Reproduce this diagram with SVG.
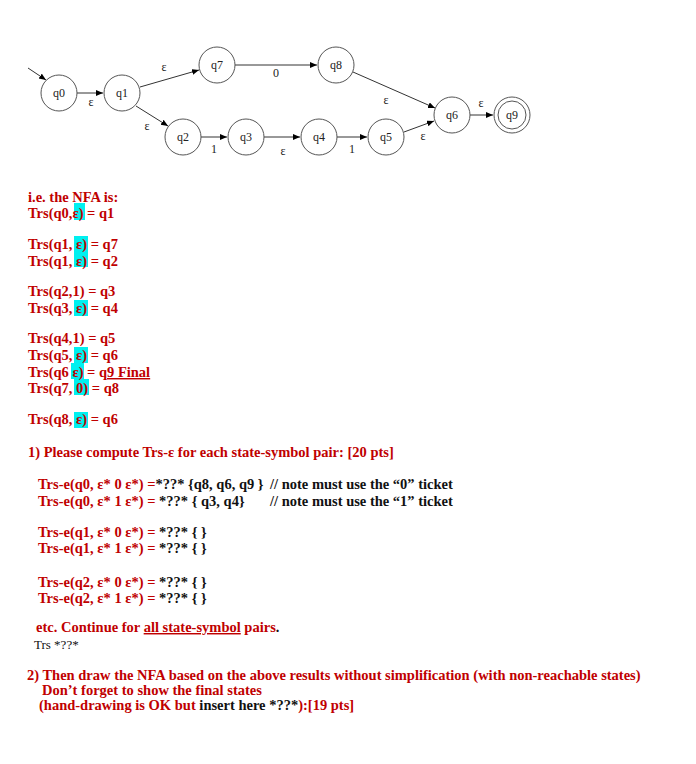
<svg xmlns="http://www.w3.org/2000/svg" width="696" height="764" viewBox="0 0 696 764">
<defs>
<marker id="ah" markerWidth="8" markerHeight="8" refX="7" refY="3" orient="auto" markerUnits="userSpaceOnUse"><path d="M0,0 L7,3 L0,6 z" fill="#000"/></marker>
</defs>
<style>
.n circle{fill:#fff;stroke:#555;stroke-width:1}
.n text,.lb{font-family:"Liberation Serif",serif;font-size:12px;fill:#222;text-anchor:middle}
.e{stroke:#333;stroke-width:1;fill:none;marker-end:url(#ah)}
.t{font-family:"Liberation Serif",serif;font-weight:bold;font-size:14.5px;fill:#c00000}
.k{fill:#111}
.hl{fill:#00f0f0}
</style>
<rect width="696" height="764" fill="#fff"/>
<g id="connectors">
<line class="e" x1="28" y1="68" x2="46" y2="80"/>
<line class="e" x1="77" y1="93" x2="103" y2="93"/>
<line class="e" x1="140" y1="87" x2="199" y2="70"/>
<line class="e" x1="136" y1="106" x2="168" y2="126"/>
<line class="e" x1="235" y1="65" x2="317" y2="65"/>
<line class="e" x1="201" y1="137" x2="227" y2="137"/>
<line class="e" x1="264" y1="137" x2="300" y2="137"/>
<line class="e" x1="337" y1="137" x2="367" y2="137"/>
<line class="e" x1="404" y1="132" x2="434" y2="121"/>
<line class="e" x1="353" y1="72" x2="435" y2="108"/>
<line class="e" x1="470" y1="115" x2="493" y2="115"/>
<text class="lb" x="91" y="106">ε</text>
<text class="lb" x="164" y="71">ε</text>
<text class="lb" x="276" y="77">0</text>
<text class="lb" x="147" y="130">ε</text>
<text class="lb" x="214" y="153">1</text>
<text class="lb" x="283" y="155">ε</text>
<text class="lb" x="352" y="153">1</text>
<text class="lb" x="386" y="104">ε</text>
<text class="lb" x="423" y="140">ε</text>
<text class="lb" x="481" y="107">ε</text>
</g>
<g id="q0" class="n"><circle cx="59" cy="93" r="18"/><text x="59" y="97">q0</text></g>
<g id="q1" class="n"><circle cx="122" cy="93" r="18"/><text x="122" y="97">q1</text></g>
<g id="q7" class="n"><circle cx="217" cy="65" r="18"/><text x="217" y="69">q7</text></g>
<g id="q8" class="n"><circle cx="336" cy="65" r="18"/><text x="336" y="69">q8</text></g>
<g id="q2" class="n"><circle cx="183" cy="137" r="18"/><text x="183" y="141">q2</text></g>
<g id="q3" class="n"><circle cx="246" cy="137" r="18"/><text x="246" y="141">q3</text></g>
<g id="q4" class="n"><circle cx="319" cy="137" r="18"/><text x="319" y="141">q4</text></g>
<g id="q5" class="n"><circle cx="386" cy="137" r="18"/><text x="386" y="141">q5</text></g>
<g id="q6" class="n"><circle cx="452" cy="115" r="18"/><text x="452" y="119">q6</text></g>
<g id="q9" class="n"><circle cx="512" cy="115" r="18"/><circle cx="512" cy="115" r="14"/><text x="512" y="119">q9</text></g>
<g id="highlights">
<rect class="hl" x="74" y="203" width="11" height="17"/>
<rect class="hl" x="74" y="236" width="14" height="31"/>
<rect class="hl" x="74" y="300" width="14" height="16"/>
<rect class="hl" x="74" y="347" width="14" height="16"/>
<rect class="hl" x="71" y="363" width="13" height="16"/>
<rect class="hl" x="74" y="379" width="15" height="16"/>
<rect class="hl" x="74" y="412" width="14" height="16"/>
</g>
<g id="text">
<text class="t" x="28" y="202">i.e. the NFA is:</text>
<text class="t" x="28" y="218">Trs(q0,ε) = q1</text>
<text class="t" x="28" y="249">Trs(q1, ε) = q7</text>
<text class="t" x="28" y="266">Trs(q1, ε) = q2</text>
<text class="t" x="28" y="296">Trs(q2,1) = q3</text>
<text class="t" x="28" y="313">Trs(q3, ε) = q4</text>
<text class="t" x="28" y="343">Trs(q4,1) = q5</text>
<text class="t" x="28" y="360">Trs(q5, ε) = q6</text>
<text class="t" x="28" y="377">Trs(q6  ε) = q<tspan text-decoration="underline">9  Final</tspan></text>
<text class="t" x="28" y="393">Trs(q7, 0) = q8</text>
<text class="t" x="28" y="424">Trs(q8, ε) = q6</text>
<text class="t" x="28" y="457">1) Please compute Trs-ε for each state-symbol pair: [20 pts]</text>
<text class="t" x="38" y="489">Trs-e(q0, ε* 0 ε*) =<tspan class="k">*??* {q8, q6, q9 }</tspan></text>
<text class="t k" x="270" y="489">// note must use the “0” ticket</text>
<text class="t" x="38" y="506">Trs-e(q0, ε* 1 ε*) = <tspan class="k">*??* { q3, q4}</tspan></text>
<text class="t k" x="270" y="506">// note must use the “1” ticket</text>
<text class="t" x="38" y="537">Trs-e(q1, ε* 0 ε*) = <tspan class="k">*??* { }</tspan></text>
<text class="t" x="38" y="553">Trs-e(q1, ε* 1 ε*) = <tspan class="k">*??* { }</tspan></text>
<text class="t" x="38" y="587">Trs-e(q2, ε* 0 ε*) = <tspan class="k">*??* { }</tspan></text>
<text class="t" x="38" y="603">Trs-e(q2, ε* 1 ε*) = <tspan class="k">*??* { }</tspan></text>
<text class="t" x="36" y="632">etc.  Continue for <tspan text-decoration="underline">all state-symbol</tspan> pairs<tspan class="k">.</tspan></text>
<text class="t k" x="34" y="649" style="font-weight:normal;font-size:13px">Trs  *??*</text>
<text class="t" x="27" y="680">2) Then draw the NFA based on the above results without simplification (with non-reachable states)</text>
<text class="t" x="42" y="695">Don’t forget to show the final states</text>
<text class="t" x="39" y="710">(hand-drawing is OK but <tspan class="k">insert here *??*</tspan>):[19 pts]</text>
</g>
</svg>
